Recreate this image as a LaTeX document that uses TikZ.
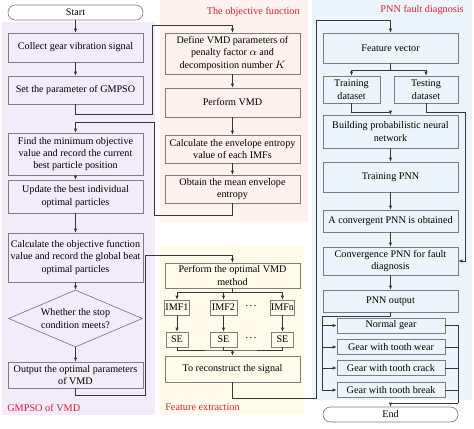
\documentclass[tikz,border=0pt]{standalone}
\usepackage{fontspec}
\setmainfont{Liberation Serif}
\usetikzlibrary{shapes.geometric,arrows.meta}

\begin{document}
\begin{tikzpicture}[x=0.75pt,y=0.75pt,yscale=-1,xscale=1,
  box/.style={draw={rgb, 255:red, 125; green, 125; blue, 125 },line width=0.5pt,align=center,inner sep=1pt,minimum width=101.25pt,font=\fontsize{7.6}{9.3}\selectfont},
  cell/.style={box,minimum width=16.5pt,minimum height=11.25pt,inner sep=0.5pt},
  kind/.style={box,minimum width=81pt,minimum height=11.25pt},
  term/.style={box,rounded corners=5.6pt,fill=white,minimum height=11.25pt},
  decision/.style={box,diamond,aspect=2.35,inner sep=0pt,minimum width=100.5pt,minimum height=42.75pt},
  line/.style={draw={rgb, 255:red, 55; green, 55; blue, 55 },line width=0.5pt},
  arr/.style={line,-{Latex[length=3pt,width=2.6pt]}},
  title/.style={text={rgb, 255:red, 226; green, 28; blue, 52 },inner sep=0.75pt,font=\fontsize{7.7}{9.3}\selectfont}
]
\useasboundingbox (0,0) rectangle (474,428);

%Shape: Rectangle [panels]
\fill [fill={rgb, 255:red, 242; green, 235; blue, 250 }] (2,22) rectangle (155,415);
\fill [fill={rgb, 255:red, 253; green, 242; blue, 238 }] (160,0) rectangle (308,222);
\fill [fill={rgb, 255:red, 254; green, 252; blue, 233 }] (160,245) rectangle (304,415);
\fill [fill={rgb, 255:red, 236; green, 245; blue, 251 }] (312,0) rectangle (472,400);

% Text Node [panel titles]
\node [title,anchor=east] (objtitle) at (301,12) {The objective function};
\node [title,anchor=east] (pnntitle) at (465,10) {PNN fault diagnosis};
\node [title,anchor=west] (gmtitle) at (6,408) {GMPSO of VMD};
\node [title,anchor=west] (fetitle) at (164,407) {Feature extraction};

%Shape: Rectangle [GMPSO of VMD]
\node [term] (start) at (75.5,12.5) {Start};
\node [box,minimum height=21.75pt] (collect) at (75.5,47.5) {Collect gear vibration signal};
\node [box,minimum height=21pt] (gmpso) at (75.5,90) {Set the parameter of GMPSO};
\node [box,minimum height=31.5pt] (findmin) at (75.5,154) {Find the minimum objective\\value and record the current\\best particle position};
\node [box,minimum height=24.75pt] (update) at (75.5,196.5) {Update the best individual\\optimal particles};
\node [box,minimum height=36.75pt] (calcobj) at (75.5,257.5) {Calculate the objective function\\value and record the global beat\\optimal particles};
\node [decision] (stop) at (75.5,318.5) {Whether the stop\\condition meets?};
\node [box,minimum height=19.5pt] (optpar) at (75.5,375) {Output the optimal parameters\\of VMD};

%Shape: Rectangle [objective function]
\node [box,minimum height=30.75pt] (define) at (232.5,53.5) {Define VMD parameters of\\penalty factor $\alpha$ and\\decomposition number $K$};
\node [box,minimum height=21.75pt] (vmd) at (232.5,102.5) {Perform VMD};
\node [box,minimum height=21pt] (envel) at (232.5,149) {Calculate the envelope entropy\\value of each IMFs};
\node [box,minimum height=21pt] (mean) at (232.5,189) {Obtain the mean envelope\\entropy};

%Shape: Rectangle [feature extraction]
\node [box,minimum height=18.75pt] (optvmd) at (232.5,275.5) {Perform the optimal VMD\\method};
\node [cell] (imf1) at (177,307.5) {IMF1};
\node [cell,minimum width=20.25pt] (imf2) at (223.5,307.5) {IMF2};
\node [cell] (imfn) at (282.5,307.5) {IMFn};
\node [cell] (se1) at (177,339.5) {SE};
\node [cell,minimum width=20.25pt] (se2) at (223.5,339.5) {SE};
\node [cell] (sen) at (282.5,339.5) {SE};
\node [font=\fontsize{7.6}{9.3}\selectfont] (dotsa) at (251,306) {.\,.\,.};
\node [font=\fontsize{7.6}{9.3}\selectfont] (dotsb) at (251,338) {.\,.\,.};
\node [box,minimum height=19.5pt] (recon) at (232.5,369) {To reconstruct the signal};

%Shape: Rectangle [PNN fault diagnosis]
\node [box,minimum height=22.5pt] (fvec) at (390.5,48) {Feature vector};
\node [box,minimum width=42.75pt,minimum height=20.25pt] (train) at (351.5,89.5) {Training\\dataset};
\node [box,minimum width=48pt,minimum height=20.25pt] (test) at (426,89.5) {Testing\\dataset};
\node [box,minimum height=24.75pt] (build) at (390.5,131.5) {Building probabilistic neural\\network};
\node [box,minimum height=22.5pt] (trpnn) at (390.5,177) {Training PNN};
\node [box,minimum height=16.5pt] (conv) at (390.5,221) {A convergent PNN is obtained};
\node [box,minimum height=21pt] (convd) at (390.5,261) {Convergence PNN for fault\\diagnosis};
\node [box,minimum height=16.5pt] (pout) at (390.5,301) {PNN output};
\node [kind] (normal) at (391,325.5) {Normal gear};
\node [kind] (wear) at (391,347) {Gear with tooth wear};
\node [kind] (crack) at (391,368) {Gear with tooth crack};
\node [kind] (brk) at (391,390) {Gear with tooth break};
\node [term] (finish) at (390.5,414.5) {End};

%Straight Lines [left column]
\draw [arr] (start) -- (collect);
\draw [arr] (collect) -- (gmpso);
\draw [arr] (gmpso.south) -- ++(0,10) -| (152,25) -| (define.north);
\draw [arr] (findmin) -- (update);
\draw [arr] (update) -- (calcobj);
\draw [arr] (calcobj) -- (stop);
\draw [arr] (stop) -- (optpar);
\draw [arr] (optpar.south) -- ++(0,7) -| (145,255) -| (optvmd.north);

%Straight Lines [objective function]
\draw [arr] (define) -- (vmd);
\draw [arr] (vmd) -- (envel);
\draw [arr] (envel) -- (mean);
\draw [arr] (mean.south) -- ++(0,12) -| (154,122) -| (findmin.north);

%Straight Lines [feature extraction]
\draw [line] (optvmd.south) -- ++(0,4) coordinate (fan);
\draw [arr] (fan) -| (imf1);
\draw [arr] (fan) -| (imf2);
\draw [arr] (fan) -| (imfn);
\draw [arr] (imf1) -- (se1);
\draw [arr] (imf2) -- (se2);
\draw [arr] (imfn) -- (sen);
\coordinate (merge) at (232.5,350);
\draw [line] (se1.south) |- (merge) -| (sen.south);
\draw [line] (se2.south) |- (merge);
\draw [arr] (merge) -- (recon);
\draw [arr] (recon.south) -- ++(0,16) -| (316,20) -| (fvec.north);

%Straight Lines [PNN fault diagnosis]
\draw [line] (fvec.south) -- ++(0,7) coordinate (split);
\draw [arr] (split) -| (train);
\draw [arr] (split) -| (test);
\draw [arr] (train.south) -- ++(0,9) -| (build.north);
\draw [arr] (test.south) -- ++(0,9) -- ++(39,0) |- (convd.east);
\draw [arr] (build) -- (trpnn);
\draw [arr] (trpnn) -- (conv);
\draw [arr] (conv) -- (convd);
\draw [arr] (convd) -- (pout);
\coordinate (bus) at (322,316);
\draw [line] (pout.south) -- ++(0,4) -| (322,390);
\draw [arr] (bus |- normal.west) -- (normal.west);
\draw [arr] (bus |- wear.west) -- (wear.west);
\draw [arr] (bus |- crack.west) -- (crack.west);
\draw [arr] (bus |- brk.west) -- (brk.west);
\coordinate (outr) at (458,403);
\draw [line] (normal.east) -| (outr);
\draw [line] (wear.east) -- (wear.east -| outr);
\draw [line] (crack.east) -- (crack.east -| outr);
\draw [line] (brk.east) -- (brk.east -| outr);
\draw [arr] (outr) -| (finish.north);

\end{tikzpicture}
\end{document}
